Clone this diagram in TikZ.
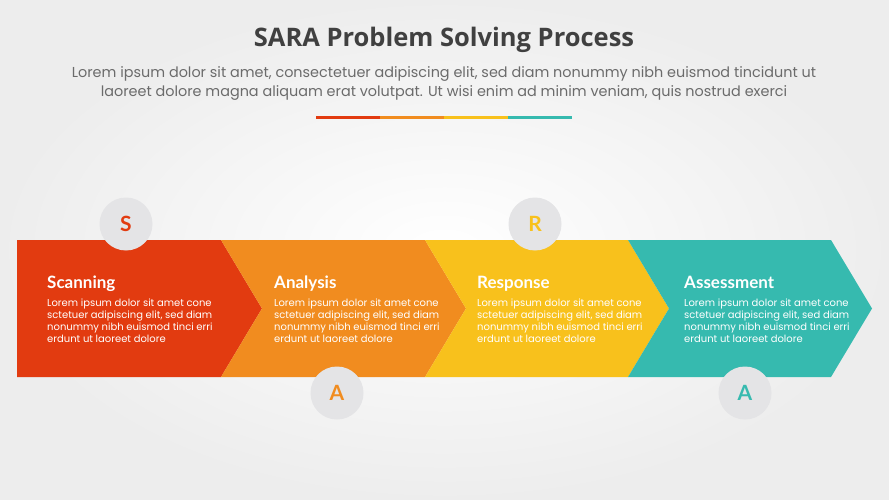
\documentclass[tikz,border=0pt]{standalone}
\usepackage{fontspec}
\setmainfont{Poppins}
\newfontfamily\headfont{Lato}
\newfontfamily\titlefont{Open Sans}
\usepackage{tikz}
\definecolor{sred}{HTML}{E23B10}
\definecolor{sorange}{HTML}{F18C1F}
\definecolor{syellow}{HTML}{F8C11C}
\definecolor{steal}{HTML}{36BAAF}
\definecolor{disc}{HTML}{E4E4E6}
\definecolor{ink}{HTML}{404040}
\tikzstyle{letter}=[shape=circle,fill=disc,minimum size=53pt,inner sep=0pt,font=\headfont\bfseries\fontsize{21}{21}\selectfont]
\tikzstyle{head}=[anchor=base west,inner sep=0pt,text=white,font=\headfont\bfseries\fontsize{17}{17}\selectfont]
\tikzstyle{body}=[anchor=north west,inner sep=0pt,text=white,align=left,font=\fontsize{10}{12.2}\selectfont]

\begin{document}
\begin{tikzpicture}[x=1pt,y=-1pt]
            \useasboundingbox (0,0) rectangle (889,500);
            \shade[inner color=white,outer color=black!7] (0,0) rectangle (889,500);
            % title and subtitle
            \node[font=\titlefont\bfseries\fontsize{25.5}{25.5}\selectfont,text=ink] (title) at (444,40) {SARA Problem Solving Process};
            \node[font=\fontsize{14.4}{19}\selectfont,text=black!58,align=center] (sub) at (444,83)
                {Lorem ipsum dolor sit amet, consectetuer adipiscing elit, sed diam nonummy nibh euismod tincidunt ut\\
                 laoreet dolore magna aliquam erat volutpat. Ut wisi enim ad minim veniam, quis nostrud exerci};
            \fill[sred] (316,116) rectangle (380,119.5);
            \fill[sorange] (380,116) rectangle (444,119.5);
            \fill[syellow] (444,116) rectangle (508,119.5);
            \fill[steal] (508,116) rectangle (572,119.5);
            % chevrons
            \fill[sred] (17,240) -- (221,240) -- (262,308.5) -- (221,377) -- (17,377) -- cycle;
            \fill[sorange] (221,240) -- (425,240) -- (466,308.5) -- (425,377) -- (221,377) -- (262,308.5) -- cycle;
            \fill[syellow] (425,240) -- (628,240) -- (669,308.5) -- (628,377) -- (425,377) -- (466,308.5) -- cycle;
            \fill[steal] (628,240) -- (831,240) -- (872,308.5) -- (831,377) -- (628,377) -- (669,308.5) -- cycle;
            % letters
            \node[letter,text=sred] (S) at (126,224) {S};
            \node[letter,text=sorange] (A1) at (337,393) {A};
            \node[letter,text=syellow] (R) at (535,224) {R};
            \node[letter,text=steal] (A2) at (745,393) {A};
            % steps
            \node[head] (scan) at (47,288) {Scanning};
            \node[body] (scantext) at (47,298.5) {Lorem ipsum dolor sit amet cone\\sctetuer adipiscing elit, sed diam\\nonummy nibh euismod tinci erri\\erdunt ut laoreet dolore};
            \node[head] (ana) at (274,288) {Analysis};
            \node[body] (anatext) at (274,298.5) {Lorem ipsum dolor sit amet cone\\sctetuer adipiscing elit, sed diam\\nonummy nibh euismod tinci erri\\erdunt ut laoreet dolore};
            \node[head] (resp) at (477,288) {Response};
            \node[body] (resptext) at (477,298.5) {Lorem ipsum dolor sit amet cone\\sctetuer adipiscing elit, sed diam\\nonummy nibh euismod tinci erri\\erdunt ut laoreet dolore};
            \node[head] (assess) at (684,288) {Assessment};
            \node[body] (assesstext) at (684,298.5) {Lorem ipsum dolor sit amet cone\\sctetuer adipiscing elit, sed diam\\nonummy nibh euismod tinci erri\\erdunt ut laoreet dolore};
        \end{tikzpicture}
\end{document}
